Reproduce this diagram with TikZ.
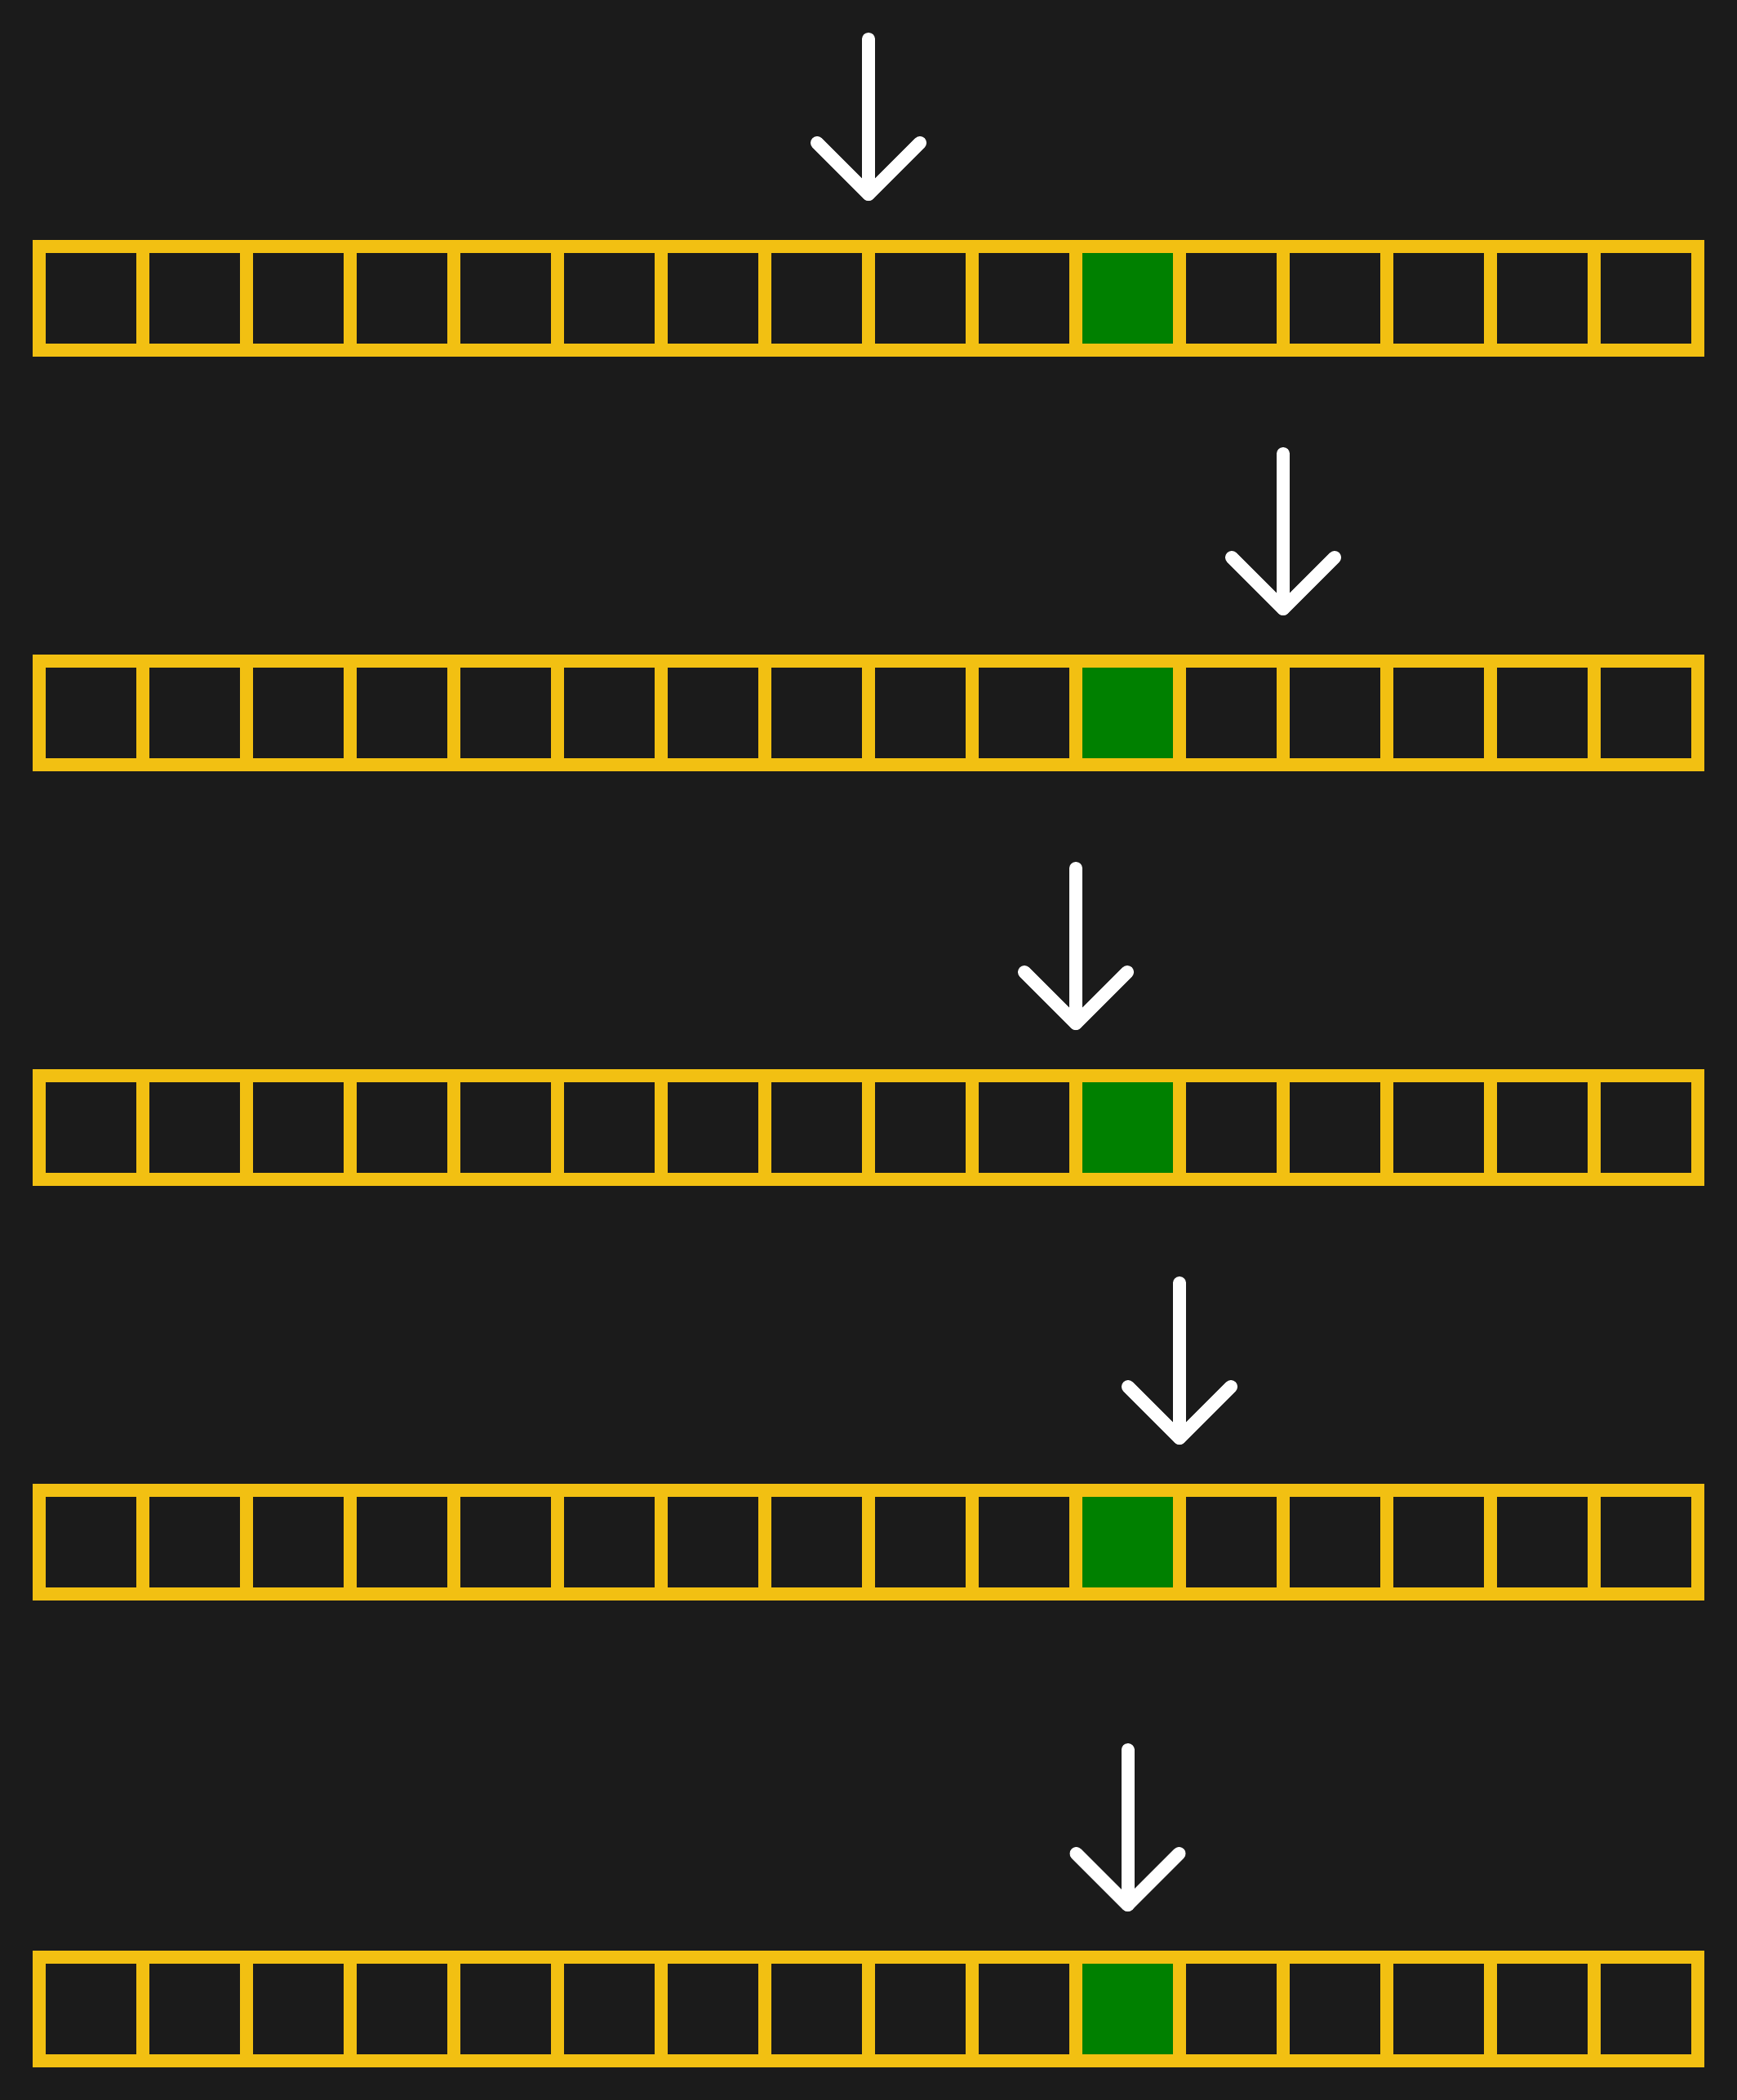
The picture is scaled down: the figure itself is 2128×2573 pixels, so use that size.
\documentclass[tikz,border=0pt]{standalone}
\usetikzlibrary{positioning}
\definecolor{bgdark}{RGB}{27,27,27}
\definecolor{cellyellow}{RGB}{242,192,18}
\definecolor{hitgreen}{RGB}{0,128,0}
\tikzset{cell/.style = {draw=cellyellow, rectangle, line width = 16, inner sep = 0, outer sep = 0, minimum size = 127}}
\tikzset{hit/.style = {cell, fill=hitgreen}}
\tikzset{pointer/.style = {draw=white, line width = 16, line cap=round, line join=round}}

\begin{document}
\begin{tikzpicture}[x=1pt, y=-1pt]
      \useasboundingbox[fill=bgdark] (0, 0) rectangle (2128, 2573);

      % rows of cells, cell 10 is the green one
      \foreach \r/\y in {1/302, 2/810, 3/1318, 4/1826, 5/2398} {
        \foreach \c in {0,...,9,11,12,13,14,15} {
          \node [cell] (r\r-\c) at (111.5 + 127*\c, \y + 63.5) {};
        }
        \node [hit] (r\r-10) at (1381.5, \y + 63.5) {};
      }

      % pointers above the rows
      \foreach \i/\x/\y in {1/1064/238, 2/1572/746, 3/1318/1254, 4/1445/1762, 5/1381.5/2334} {
        \coordinate (tail\i) at (\x, \y - 190);
        \coordinate (tip\i) at (\x, \y);
        \draw [pointer] (tail\i) -- (tip\i);
        \draw [pointer] (tip\i) ++(-63, -63) -- (tip\i) -- ++(63, -63);
      }
    \end{tikzpicture}
\end{document}
